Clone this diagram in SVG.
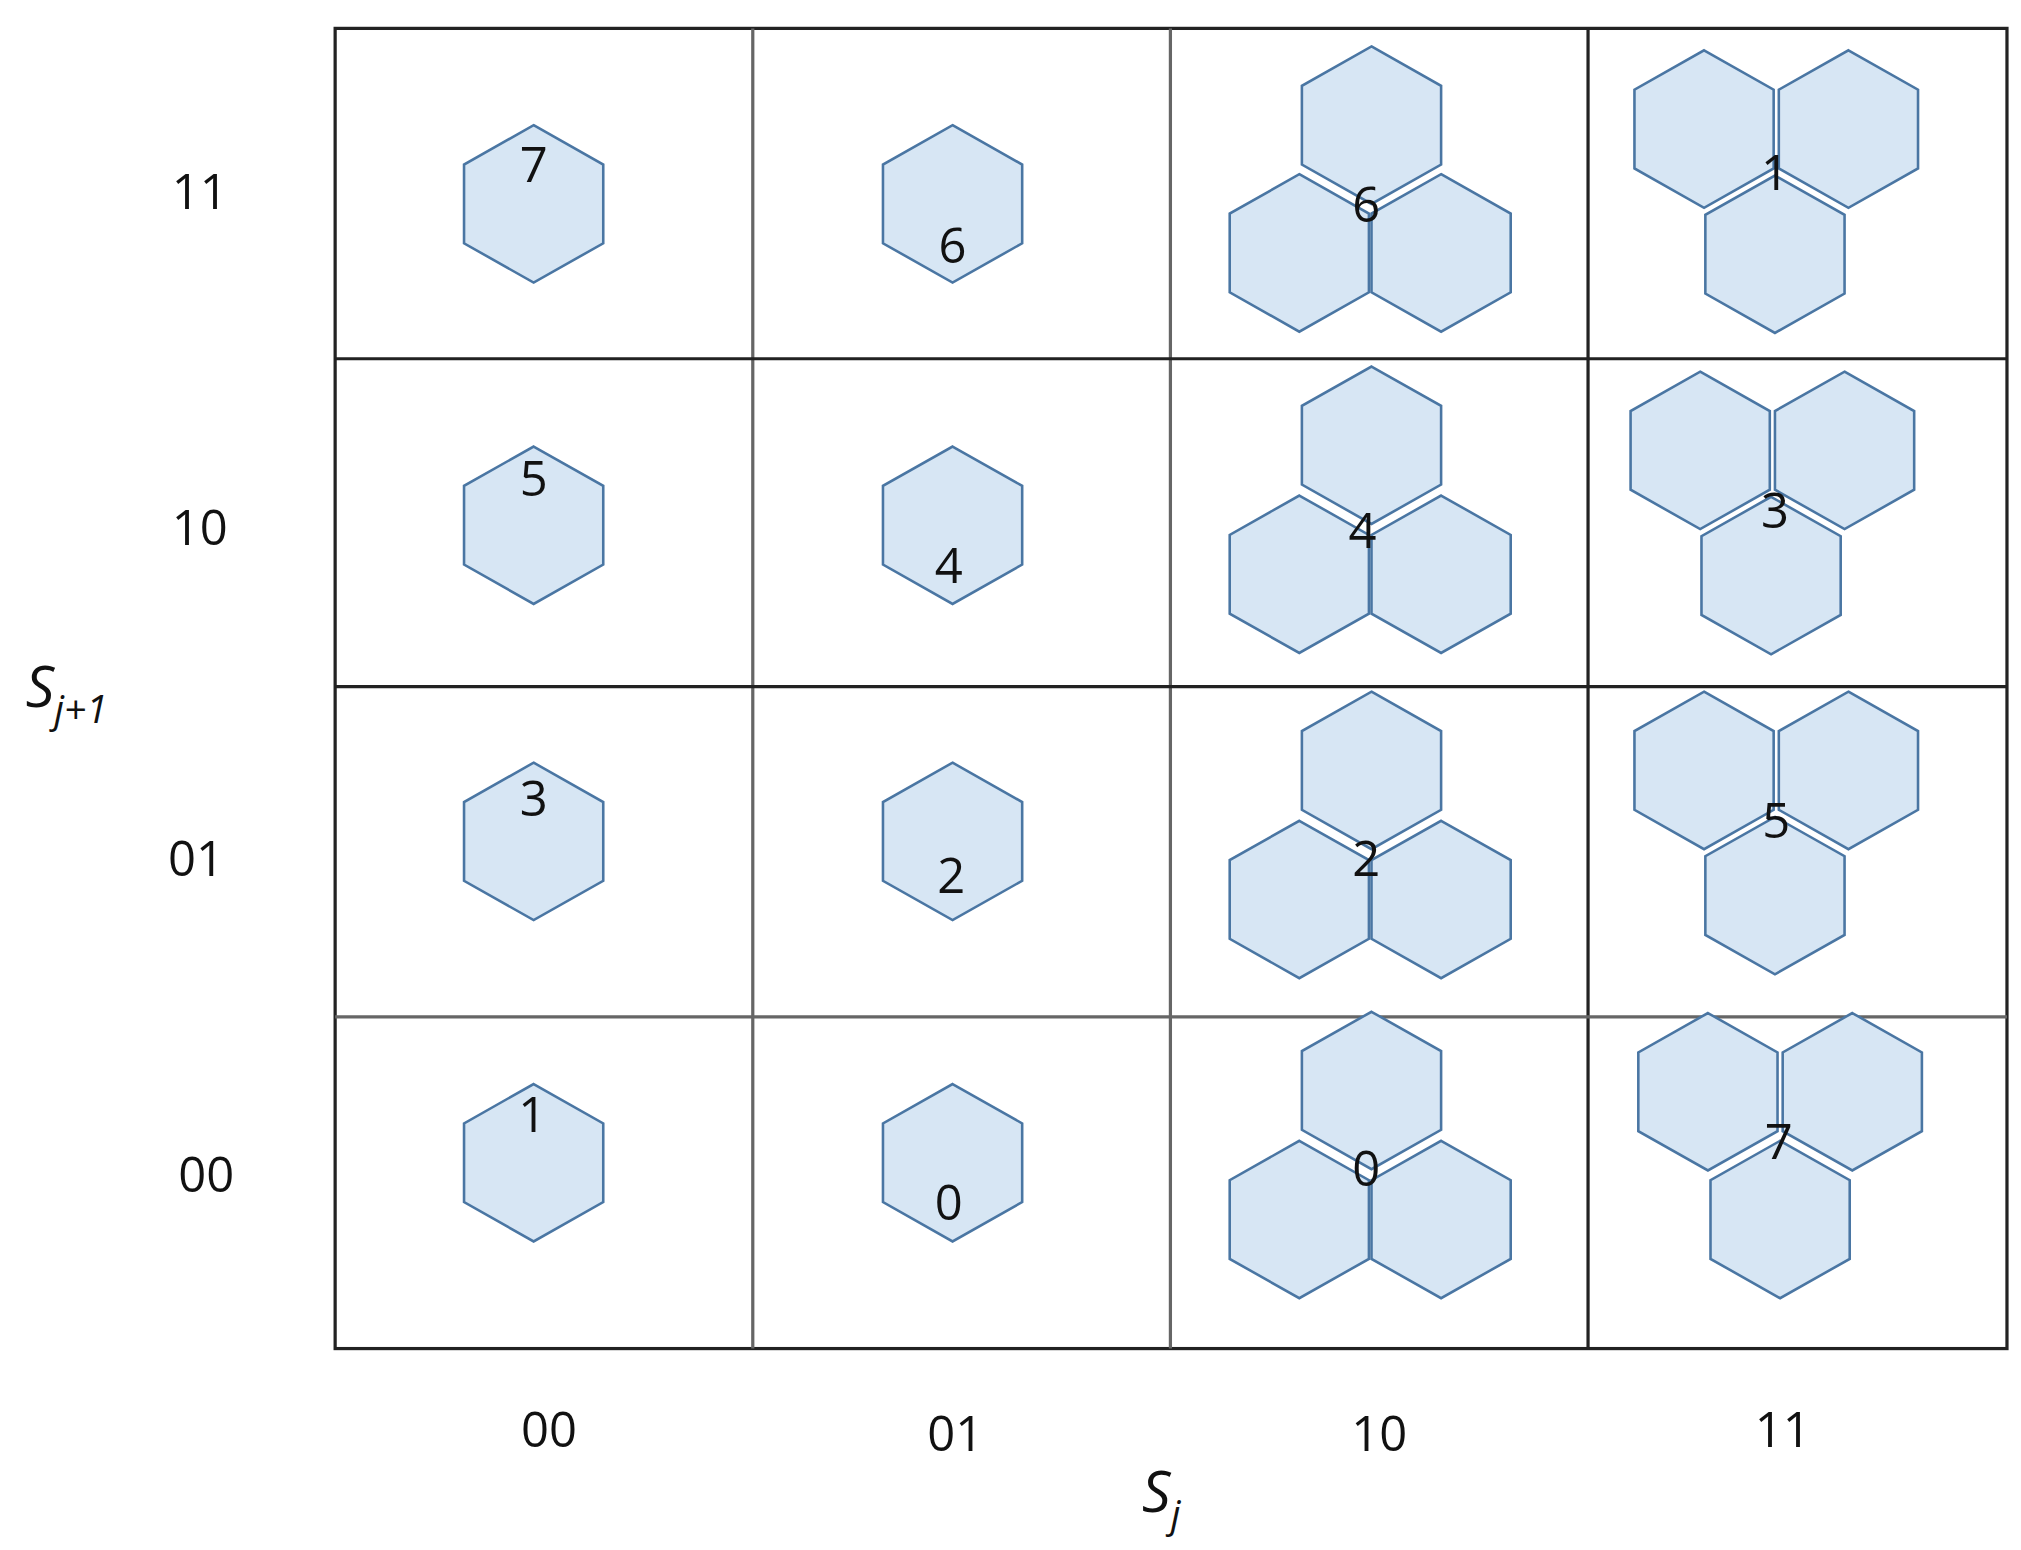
<svg xmlns="http://www.w3.org/2000/svg" width="2021" height="1550" viewBox="0 0 2021 1550">
<style>
.h{fill:#d7e6f4;stroke:#4a76a3;stroke-width:2}
.t{font-family:"Open Sans","Liberation Sans",sans-serif;font-size:38px;fill:#111;text-anchor:middle}
.s{font-family:"Open Sans","Liberation Sans",sans-serif;font-size:44px;fill:#111;text-anchor:start;font-style:italic}
.g{stroke:#222;stroke-width:2.5;fill:none}
.gi{stroke:#666;stroke-width:2.5}
</style>
<defs>
<polygon id="hx" points="0,-61 54,-30.5 54,30.5 0,61 -54,30.5 -54,-30.5"/>
</defs>
<rect width="2021" height="1550" fill="#fff"/>
<g transform="scale(1.289 1.2905)">
<g id="grid">
<rect class="g" x="260" y="22" width="1297" height="1023"/>
<line class="gi" x1="584" y1="22" x2="584" y2="1045"/>
<line class="gi" x1="908" y1="22" x2="908" y2="1045"/>
<line class="g" x1="1232" y1="22" x2="1232" y2="1045"/>
<line class="g" x1="260" y1="278" x2="1557" y2="278"/>
<line class="g" x1="260" y1="532" x2="1557" y2="532"/>
<line class="gi" x1="260" y1="788" x2="1557" y2="788"/>
</g>
<g id="axes">
<text class="t" x="155" y="162">11</text>
<text class="t" x="155" y="422">10</text>
<text class="t" x="152" y="679">01</text>
<text class="t" x="160" y="924">00</text>
<text class="t" x="426" y="1121">00</text>
<text class="t" x="741" y="1124">01</text>
<text class="t" x="1070" y="1124">10</text>
<text class="t" x="1383" y="1121">11</text>
<text class="s" x="20" y="548">S<tspan font-size="30" dy="12">j+1</tspan></text>
<text class="s" x="886" y="1172">S<tspan font-size="30" dy="12">j</tspan></text>
</g>
<g id="c00-11"><use href="#hx" class="h" x="414" y="158"/><text class="t" x="414" y="141">7</text></g>
<g id="c01-11"><use href="#hx" class="h" x="739" y="158"/><text class="t" x="739" y="204">6</text></g>
<g id="c10-11"><use href="#hx" class="h" x="1064" y="97"/><use href="#hx" class="h" x="1008" y="196"/><use href="#hx" class="h" x="1118" y="196"/><text class="t" x="1060" y="172">6</text></g>
<g id="c11-11"><use href="#hx" class="h" x="1322" y="100"/><use href="#hx" class="h" x="1434" y="100"/><use href="#hx" class="h" x="1377" y="197"/><text class="t" x="1377" y="147">1</text></g>
<g id="c00-10"><use href="#hx" class="h" x="414" y="407"/><text class="t" x="414" y="384">5</text></g>
<g id="c01-10"><use href="#hx" class="h" x="739" y="407"/><text class="t" x="736" y="452">4</text></g>
<g id="c10-10"><use href="#hx" class="h" x="1064" y="345"/><use href="#hx" class="h" x="1008" y="445"/><use href="#hx" class="h" x="1118" y="445"/><text class="t" x="1057" y="425">4</text></g>
<g id="c11-10"><use href="#hx" class="h" x="1319" y="349"/><use href="#hx" class="h" x="1431" y="349"/><use href="#hx" class="h" x="1374" y="446"/><text class="t" x="1377" y="409">3</text></g>
<g id="c00-01"><use href="#hx" class="h" x="414" y="652"/><text class="t" x="414" y="632">3</text></g>
<g id="c01-01"><use href="#hx" class="h" x="739" y="652"/><text class="t" x="738" y="692">2</text></g>
<g id="c10-01"><use href="#hx" class="h" x="1064" y="597"/><use href="#hx" class="h" x="1008" y="697"/><use href="#hx" class="h" x="1118" y="697"/><text class="t" x="1060" y="679">2</text></g>
<g id="c11-01"><use href="#hx" class="h" x="1322" y="597"/><use href="#hx" class="h" x="1434" y="597"/><use href="#hx" class="h" x="1377" y="694"/><text class="t" x="1378" y="649">5</text></g>
<g id="c00-00"><use href="#hx" class="h" x="414" y="901"/><text class="t" x="413" y="877">1</text></g>
<g id="c01-00"><use href="#hx" class="h" x="739" y="901"/><text class="t" x="736" y="945">0</text></g>
<g id="c10-00"><use href="#hx" class="h" x="1064" y="845"/><use href="#hx" class="h" x="1008" y="945"/><use href="#hx" class="h" x="1118" y="945"/><text class="t" x="1060" y="919">0</text></g>
<g id="c11-00"><use href="#hx" class="h" x="1325" y="846"/><use href="#hx" class="h" x="1437" y="846"/><use href="#hx" class="h" x="1381" y="945"/><text class="t" x="1380" y="898">7</text></g>
</g>
</svg>
